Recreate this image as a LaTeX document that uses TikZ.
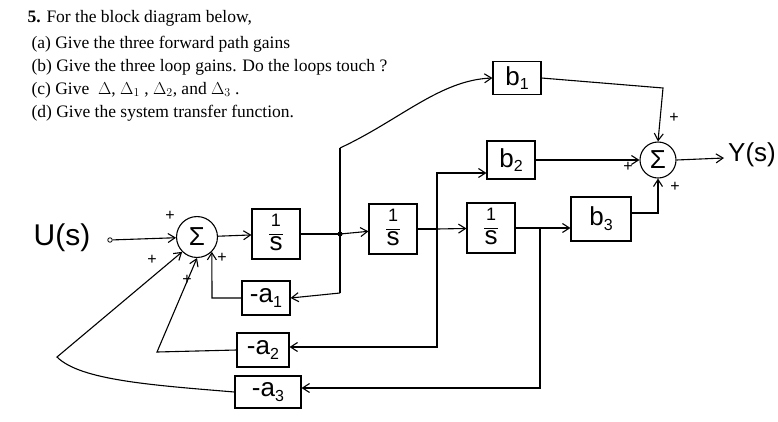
\documentclass[tikz,border=0pt]{standalone}
\usepackage{fontspec}
\setmainfont{Liberation Serif}
\newfontfamily\hand{Liberation Sans}
\usetikzlibrary{arrows.meta}
\newcommand\sbx[1]{\raisebox{-0.35ex}{\fontsize{16}{16}\selectfont #1}}
\newcommand\fr{\begin{tabular}{@{}c@{}}\fontsize{18}{18}\selectfont 1\\[-3pt]\rule{14pt}{0.9pt}\\[-2pt]\fontsize{26}{26}\selectfont s\end{tabular}}
\begin{document}
\begin{tikzpicture}[x=1pt,y=-1pt,line width=1.1pt,
  blk/.style={draw,minimum width=#1,minimum height=36pt,inner sep=0pt,font=\hand\fontsize{26}{28}\selectfont},
  blk/.default=48pt,
  sumn/.style={draw,circle,minimum width=40pt,minimum height=40pt,inner sep=6pt,font=\hand\fontsize{26}{26}\selectfont},
  sig/.style={font=\hand\fontsize{16}{16}\selectfont,inner sep=1pt},
  ar/.style={-{Straight Barb[length=7pt,width=9pt]}},
  frac/.style={blk,minimum height=50pt,font=\hand},
  txt/.style={anchor=west,font=\fontsize{17.5}{20}\selectfont,inner sep=0pt}]
\useasboundingbox (0,0) rectangle (778,421);
\node[txt] (t0) at (27,18) {\textbf{5.} For the block diagram below,};
\node[txt] (t1) at (31,44) {(a) Give the three forward path gains};
\node[txt] (t2) at (31,67) {(b) Give the three loop gains. Do the loops touch ?};
\node[txt] (t3) at (31,90) {(c) Give \ $\Delta$, $\Delta_1$ , $\Delta_2$, and $\Delta_3$ .};
\node[txt] (t4) at (31,113) {(d) Give the system transfer function.};

\node[font=\hand\fontsize{30}{30}\selectfont] (U) at (62,238) {U(s)};
\node[draw,circle,inner sep=1.6pt,line width=0.8pt] (in) at (110,240) {};
\node[sumn] (S1) at (197,237) {Σ};
\node[frac] (I1) at (276,234) {\fr};
\node[frac] (I2) at (393,229) {\fr};
\node[frac] (I3) at (491,228) {\fr};
\node[blk,minimum height=33pt] (B1) at (517,78) {b\sbx{1}};
\node[blk,minimum height=38pt] (B2) at (511,160) {b\sbx{2}};
\node[blk=60pt,minimum height=44pt] (B3) at (601,219) {b\sbx{3}};
\node[blk,minimum height=34pt] (A1) at (266,298) {-a\sbx{1}};
\node[blk=52pt,minimum height=34pt] (A2) at (263,350) {-a\sbx{2}};
\node[blk=66pt,minimum height=32pt] (A3) at (268,392) {-a\sbx{3}};
\node[sumn,minimum width=36pt,minimum height=36pt,inner sep=4pt] (S2) at (658,160) {Σ};
\node[font=\hand\fontsize{26}{26}\selectfont] (Y) at (752,155) {Y(s)};

\coordinate (p1) at (340,234);
\coordinate (p2) at (437,229);
\coordinate (p3) at (540,228);
\fill (p1) circle (2.5pt);

\draw[ar] (in) -- (S1);
\draw[ar] (S1) -- (I1);
\draw (I1) -- (p1);
\draw[ar] (p1) -- (I2);
\draw (I2) -- (p2);
\draw[ar] (p2) -- (I3);
\draw (I3) -- (p3);
\draw[ar] (p3) -- (B3.west|-p3);
\draw[ar] (340,148) .. controls (400,120) and (440,80) .. (B1.west);
\draw (340,148) -- (p1) -- (340,293);
\draw[ar] (340,293) -- (A1.east);
\draw[ar] (A1.west) -- (212,298) -- (S1.south east);
\draw[ar] (p2) -- (437,173) -- (B2.west|-173,173);
\draw[ar] (p2) -- (437,347) -- (A2.east|-347,347);
\draw[ar] (A2.west) -- (157,352) -- (S1.south);
\draw[ar] (p3) -- (540,388) -- (A3.east|-388,388);
\draw[ar] (A3.west) .. controls (150,385) and (80,380) .. (57,357) -- (S1.south west);
\draw[ar] (B1.east) -- (663,88) -- (S2.north);
\draw[ar] (B2.east) -- (S2.west);
\draw[ar] (B3.east|-213,213) -- (658,213) -- (S2.south);
\draw[ar] (S2.east) -- (724,158);

\node[sig] (s1) at (170,216) {+};
\node[sig] (s2) at (152,260) {+};
\node[sig] (s3) at (222,258) {+};
\node[sig] (s4) at (187,280) {+};
\node[sig] (s5) at (674,118) {+};
\node[sig] (s6) at (628,167) {+};
\node[sig] (s7) at (675,187) {+};
\end{tikzpicture}
\end{document}
